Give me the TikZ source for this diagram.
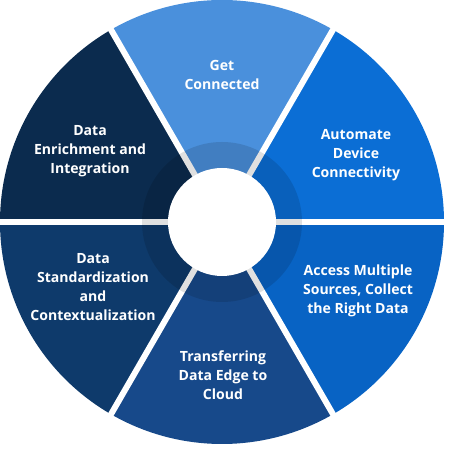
\documentclass[tikz,border=0pt]{standalone}
\usepackage{fontspec}
\setmainfont{Open Sans}
\usepackage{xcolor}
\usetikzlibrary{positioning}

\definecolor{segtop}{HTML}{4A90DC}
\definecolor{segur}{HTML}{0B6ED5}
\definecolor{seglr}{HTML}{0863C4}
\definecolor{segbot}{HTML}{17498A}
\definecolor{segll}{HTML}{0E3A6B}
\definecolor{segul}{HTML}{0B2B4E}

\begin{document}
\begin{tikzpicture}[
  x=0.02cm, y=0.02cm, % 1 unit = 1 px
  steplabel/.style={
    text=white,
    align=center,
    font=\bfseries\fontsize{8}{10.8}\selectfont
  },
  gap/.style={white, line width=0.12cm}
]
\useasboundingbox (0,0) rectangle (450,452);
\coordinate (O) at (222,230);

% six sectors
\foreach \a/\c in {0/segur, 60/segtop, 120/segul, 180/segll, 240/segbot, 300/seglr}
  \fill[\c] (O) -- ++(\a:222) arc[start angle=\a, end angle=\a+60, radius=222] -- cycle;

% white gaps
\foreach \a in {0,60,...,300}
  \draw[gap] (O) -- ++(\a:230);

% shaded ring and hole
\fill[black, opacity=0.12] (O) circle[radius=80];
\fill[white] (O) circle[radius=54];

\node[steplabel] (get) at (222,377) {Get\\Connected};
\node[steplabel] (auto) at (356,297) {Automate\\Device\\Connectivity};
\node[steplabel] (access) at (358,161) {Access Multiple\\Sources, Collect\\the Right Data};
\node[steplabel] (edge) at (223,77) {Transferring\\Data Edge to\\Cloud};
\node[steplabel] (std) at (93,164.5) {Data\\Standardization\\and\\Contextualization};
\node[steplabel] (enrich) at (90,301) {Data\\Enrichment and\\Integration};
\end{tikzpicture}
\end{document}
